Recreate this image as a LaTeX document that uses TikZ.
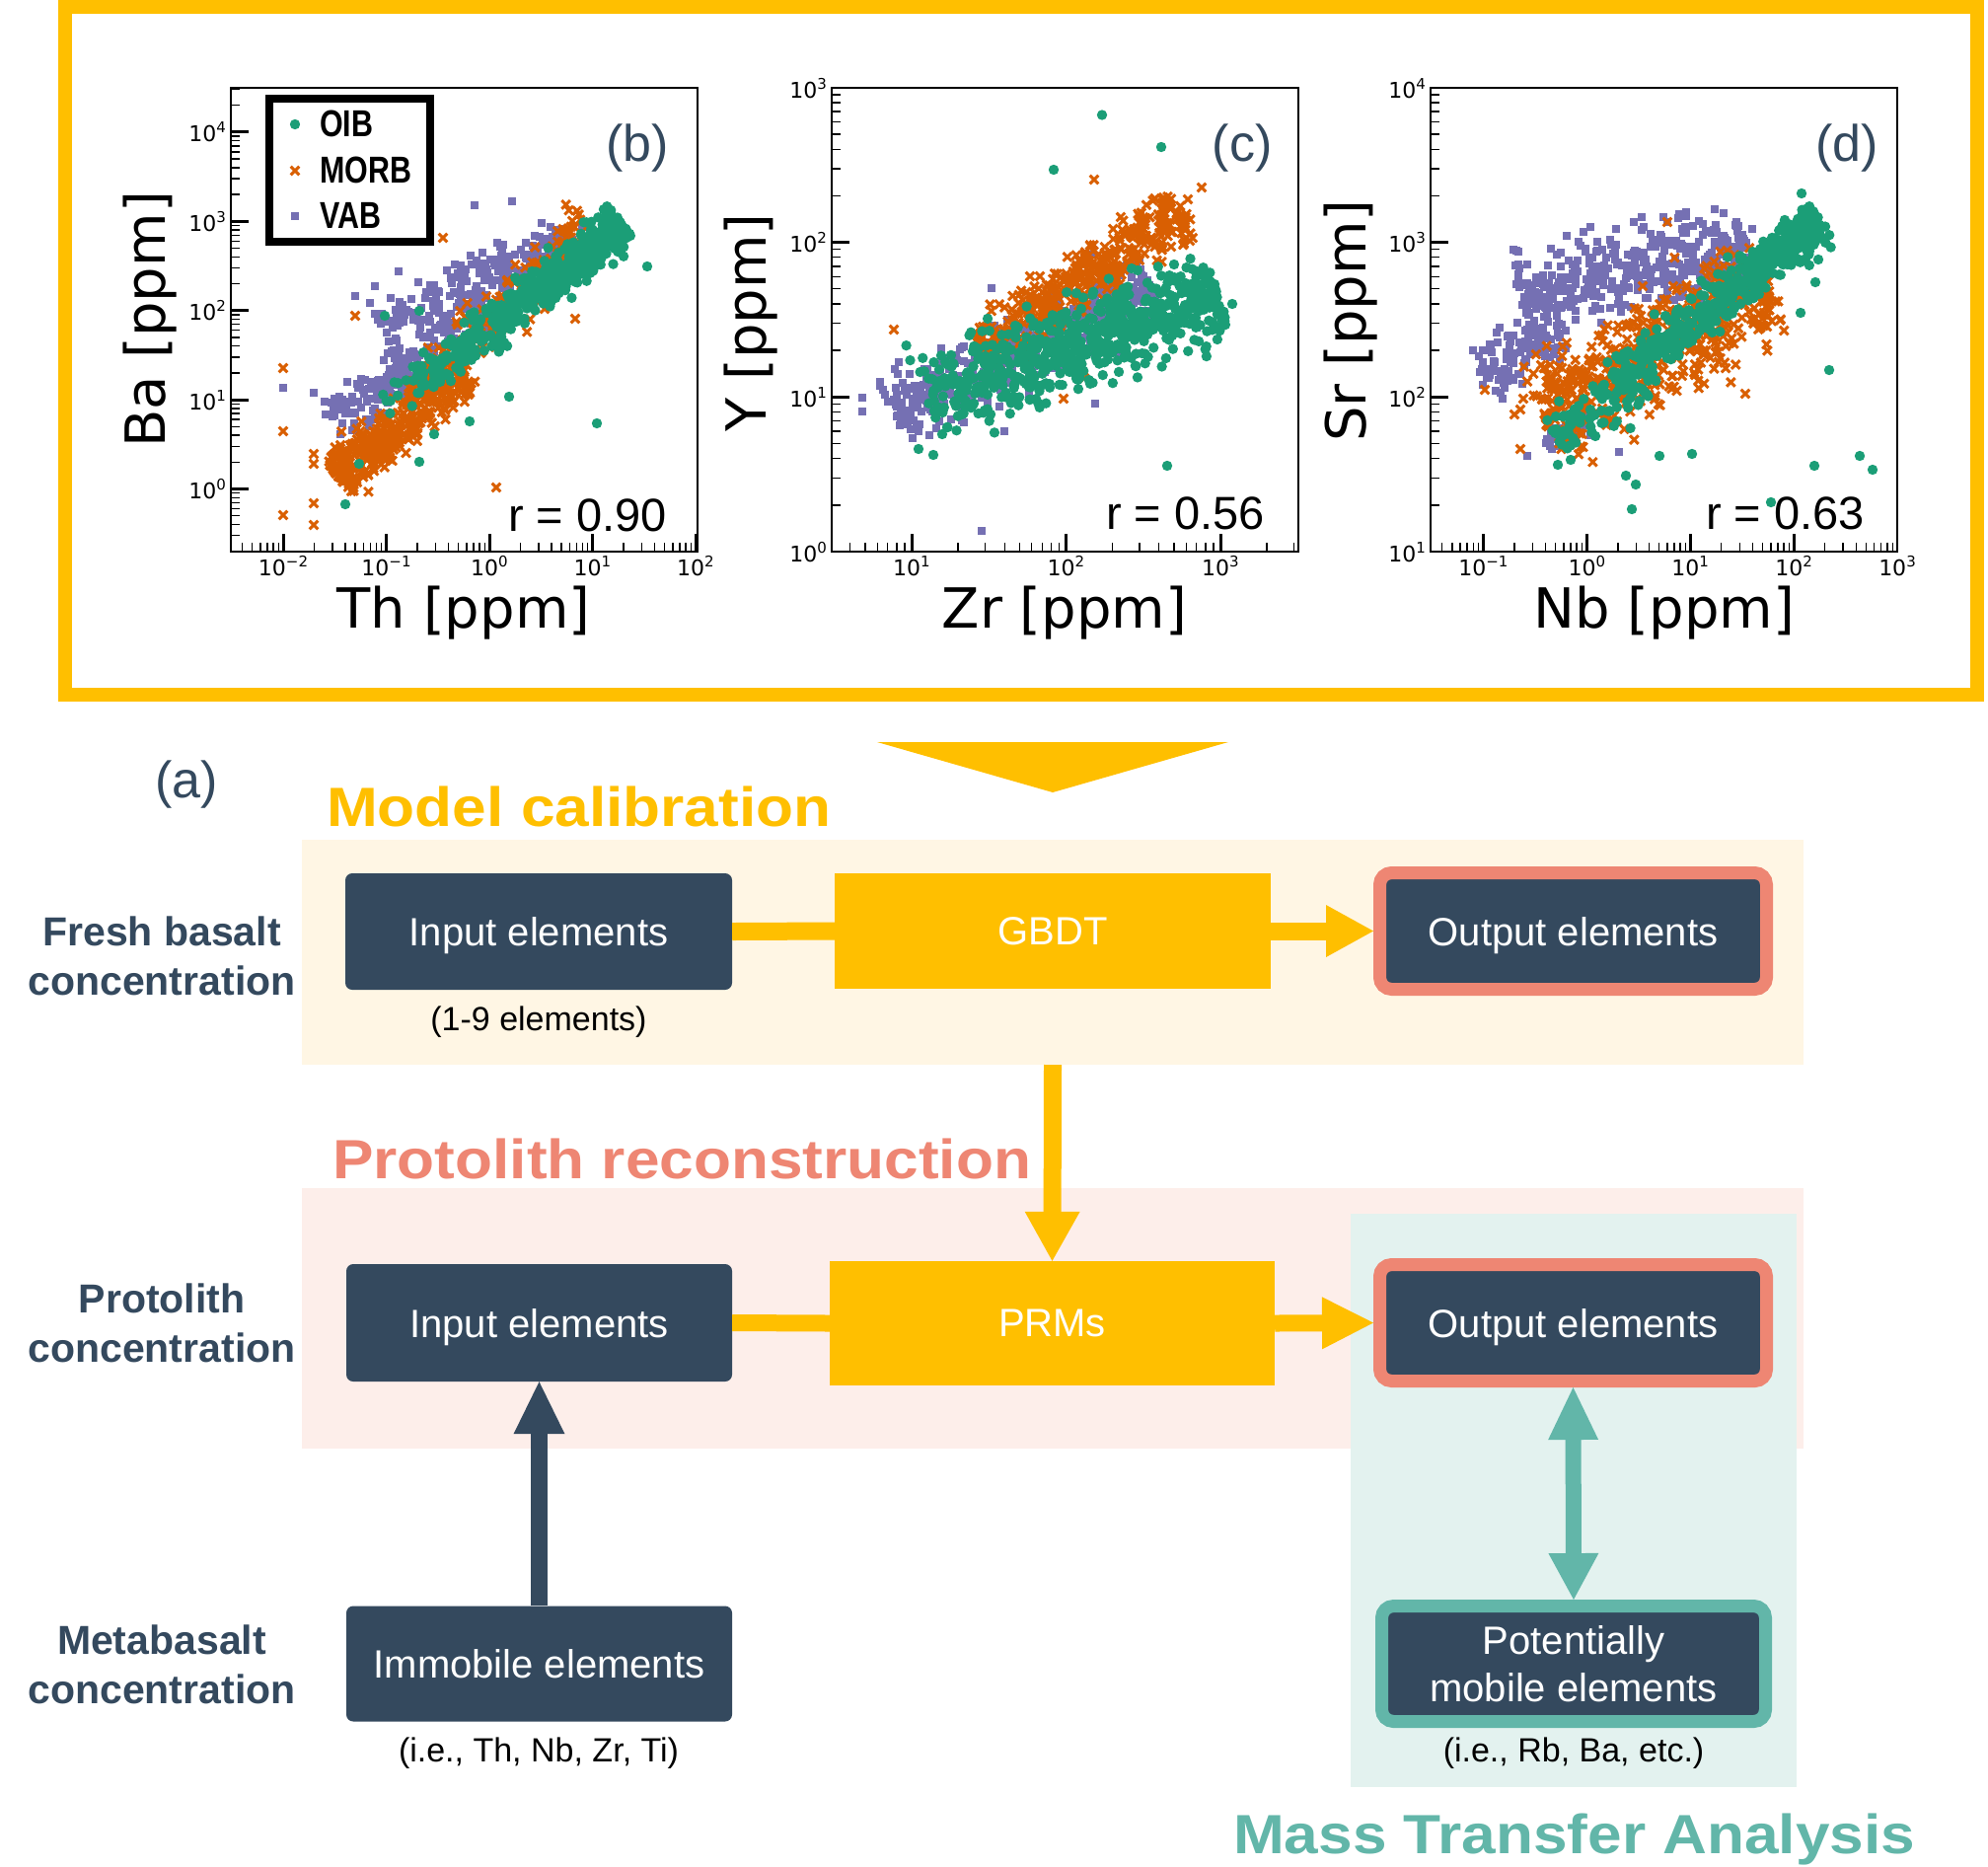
\documentclass[tikz,border=0pt]{standalone}
\usepackage{fontspec}
\setmainfont{Liberation Sans}
\newfontfamily\dvfont{DejaVu Sans}
\newfontfamily\widefont{Liberation Sans}[FakeStretch=1.11]
\newfontfamily\narrowfont{Liberation Sans}[FakeStretch=0.8]
\usetikzlibrary{arrows.meta}
\definecolor{amber}{HTML}{FFBF00}
\definecolor{slate}{HTML}{34495E}
\definecolor{salmon}{HTML}{EE8673}
\definecolor{tealc}{HTML}{62B6A9}
\definecolor{cream}{HTML}{FFF6E4}
\definecolor{pinkbg}{HTML}{FDEEEA}
\definecolor{tealbg}{HTML}{E3F2EF}
\definecolor{oibc}{HTML}{1B9E77}
\definecolor{morbc}{HTML}{D95F02}
\definecolor{vabc}{HTML}{7570B3}
\newcommand\fs[1]{\fontsize{#1}{#1}\selectfont}
\newcommand\tlab[1]{{\dvfont\fs{22}10\raisebox{9pt}{\fs{15}#1}}}
\newcommand\mO[2]{\fill[oibc] (#1,#2) circle (5.2);}
\newcommand\mM[2]{\draw[morbc,line width=3pt] ({#1-4.3},{#2-4.3}) -- ({#1+4.3},{#2+4.3}) ({#1-4.3},{#2+4.3}) -- ({#1+4.3},{#2-4.3});}
\newcommand\mV[2]{\fill[vabc] ({#1-4},{#2-4}) rectangle ++(8,8);}
\newcommand\pts[2]{\foreach \ptx/\pty in {#2}{#1{\ptx}{\pty}}}
\newcommand\cloud[8]{%
  \pgfmathsetmacro\cdx{#4-#2}%
  \pgfmathsetmacro\cdy{#5-#3}%
  \pgfmathsetmacro\cL{veclen(\cdx,\cdy)}%
  \pgfmathsetmacro\cux{(0-(\cdy))/\cL}%
  \pgfmathsetmacro\cuy{(\cdx)/\cL}%
  \foreach \cldI in {1,...,#1}{%
    \pgfmathsetmacro\cldT{rnd^#8}%
    \pgfmathsetmacro\cldN{(rand+rand+rand)*#6}%
    \pgfmathsetmacro\cldX{#2+\cldT*\cdx+\cldN*\cux}%
    \pgfmathsetmacro\cldY{#3+\cldT*\cdy+\cldN*\cuy}%
    #7{\cldX}{\cldY}%
  }}
\newcommand\logaxes[8]{%
  \begin{scope}
    \clip (#5,#6) rectangle (#7,#8);
    \foreach \dd in {-4,...,4}{%
      \foreach \kk in {2,...,9}{%
        \draw[line width=1.4pt] ({#1+(\dd+log10(\kk))*#2},#8) -- ++(0,-9);
        \draw[line width=1.4pt] (#5,{#3-(\dd+log10(\kk))*#4}) -- ++(9,0);
      }
      \draw[line width=3pt] ({#1+\dd*#2},#8) -- ++(0,-18);
      \draw[line width=3pt] (#5,{#3-\dd*#4}) -- ++(18,0);
    }
  \end{scope}
  \draw[line width=1.6pt] (#5,#6) rectangle (#7,#8);}
\tikzset{
  darkbox/.style={fill=slate, rounded corners=7pt, text=white, font=\fs{40}, minimum width=392pt, minimum height=118pt, inner sep=0pt, text depth=0pt},
  ambbox/.style={fill=amber, text=white, font=\fs{40}, inner sep=0pt, text depth=0pt},
  outbox/.style={darkbox, draw=salmon, line width=13pt, rounded corners=12pt},
  rowlab/.style={text=slate, font=\bfseries\fontsize{41}{50}\selectfont, align=center, inner sep=0pt},
  note/.style={font=\fs{34}, inner sep=0pt},
  title/.style={anchor=base west, inner sep=0pt, font=\widefont\bfseries\fs{56}},
  band/.style={inner sep=0pt, outer sep=0pt},
  flowline/.style={line width=18pt},
  axlab/.style={font=\dvfont\fs{56}, inner sep=0pt, anchor=base},
  rlab/.style={font=\fs{47}, inner sep=0pt, anchor=base east},
  plab/.style={text=slate, font=\fs{52}, inner sep=0pt},
  ytl/.style={anchor=base east, inner sep=0pt},
  xtl/.style={anchor=base, inner sep=0pt},
}
\begin{document}
\begin{tikzpicture}[x=1pt,y=-1pt]
\pgfmathsetseed{4242}
\fill[white] (0,0) rectangle (2015,1891);
\useasboundingbox (0,0) rectangle (2015,1891);
% ---------- frame ----------
\draw[amber, line width=14pt] (65.5,7) rectangle (2004,704);
% ---------- plot (b) ----------
\begin{scope}
\clip (234,89) rectangle (707,559);
\cloud{300}{340}{428}{575}{236}{12}{\mV}{1}
\cloud{120}{385}{330}{520}{255}{12}{\mV}{1}
\pts{\mV}{287/393,318/398,481/208,519/204,404/275,360/300,380/290,330/420,336/408,345/440,560/240,590/230}
\cloud{380}{342}{482}{470}{378}{12}{\mM}{1.4}
\cloud{180}{430}{400}{595}{222}{13}{\mM}{1}
\pts{\mM}{287/373,287/437,287/522,318/510,318/532,360/320,503/494,583/323,449/241,318/460,318/470,340/460}
\cloud{520}{382}{420}{632}{228}{11}{\mO}{0.55}
\pts{\mO}{656/270,605/429,350/511,516/402,425/468,364/470,440/440,476/427,390/320,425/315}
\end{scope}
\logaxes{496}{104.5}{495.5}{90.4}{234}{89}{707}{559}
\foreach \xx/\ee [count=\ii] in {287/−2,391.5/−1,496/0,600.5/1,705/2}{\node[xtl] (bxt\ii) at (\xx,583) {\tlab{\ee}};}
\foreach \yy/\ee [count=\ii] in {495.5/0,405.1/1,314.7/2,224.3/3,133.9/4}{\node[ytl] (byt\ii) at (229,\yy+10) {\tlab{\ee}};}
\node[axlab, rotate=90] (bylab) at (167,324) {Ba [ppm]};
\node[axlab] (bxlab) at (470,636) {Th [ppm]};
\node[rlab] (br) at (676,538) {r = 0.90};
\node[plab] (blab) at (646,150) {(b)};
\node[draw=black, line width=8pt, fill=white, minimum width=163pt, minimum height=145pt, inner sep=0pt] (leg) at (354.3,172.4) {};
\mO{299}{126}
\mM{299}{173}
\mV{299}{219}
\node[anchor=base west, inner sep=0pt, font=\narrowfont\bfseries\fs{38}] (lg1) at (324,138) {OIB};
\node[anchor=base west, inner sep=0pt, font=\narrowfont\bfseries\fs{38}] (lg2) at (324,185) {MORB};
\node[anchor=base west, inner sep=0pt, font=\narrowfont\bfseries\fs{38}] (lg3) at (324,231) {VAB};
% ---------- plot (c) ----------
\begin{scope}
\clip (843,89) rectangle (1316,559);
\cloud{420}{905}{418}{1170}{292}{17}{\mV}{1}
\pts{\mV}{874/403,874/417,995/538,1106/258,1005/292,1110/409,1018/437,1143/273,1213/332}
\cloud{420}{995}{352}{1200}{212}{13}{\mM}{1}
\pts{\mM}{906/334,1109/182,1206/244,1078/404,1044/280,1054/280,1218/190,1204/202,1099/383}
\cloud{650}{935}{405}{1235}{300}{21}{\mO}{0.85}
\pts{\mO}{1117/116.5,1177/149,1068/172,1183/472,931/455,946/461,1249/308,1231/288,955/440,960/433,1190/268}
\end{scope}
\logaxes{767.5}{156.5}{559}{156.7}{843}{89}{1316}{559}
\foreach \xx/\ee [count=\ii] in {924/1,1080.5/2,1237/3}{\node[xtl] (cxt\ii) at (\xx,583) {\tlab{\ee}};}
\foreach \yy/\ee [count=\ii] in {559/0,402.3/1,245.6/2,89/3}{\node[ytl] (cyt\ii) at (838,\yy+10) {\tlab{\ee}};}
\node[axlab, rotate=90] (cylab) at (776,327) {Y [ppm]};
\node[axlab] (cxlab) at (1079,636) {Zr [ppm]};
\node[rlab] (cr) at (1282,536) {r = 0.56};
\node[plab] (clab) at (1259,150) {(c)};
% ---------- plot (d) ----------
\begin{scope}
\clip (1450,89) rectangle (1923,559);
\cloud{380}{1540}{300}{1770}{248}{20}{\mV}{1}
\cloud{110}{1500}{378}{1585}{330}{15}{\mV}{1}
\cloud{40}{1565}{445}{1610}{425}{8}{\mV}{1}
\pts{\mV}{1638/232,1701/221,1709/215,1590/264,1641/458,1548/462,1675/243,1699/244,1776/232,1503/355,1503/390,1510/380}
\cloud{520}{1560}{420}{1795}{290}{27}{\mM}{1}
\pts{\mM}{1505/395,1544/404,1541/455,1769/399,1690/225,1665/290,1696/290,1541/415,1535/420}
\cloud{450}{1610}{410}{1845}{222}{11}{\mO}{0.55}
\cloud{90}{1575}{440}{1680}{385}{12}{\mO}{1}
\pts{\mO}{1854/375,1885/462,1898/476,1839/472,1795/509,1654/516,1648/482,1658/491,1682/462,1715/460,1579/471,1592/466,1825/317,1826/196,1840/286,1843/263}
\end{scope}
\logaxes{1608.3}{104.9}{715.7}{156.7}{1450}{89}{1923}{559}
\foreach \xx/\ee [count=\ii] in {1503.4/−1,1608.3/0,1713.2/1,1818.1/2,1923/3}{\node[xtl] (dxt\ii) at (\xx,583) {\tlab{\ee}};}
\foreach \yy/\ee [count=\ii] in {559/1,402.3/2,245.6/3,89/4}{\node[ytl] (dyt\ii) at (1445,\yy+10) {\tlab{\ee}};}
\node[axlab, rotate=90] (dylab) at (1384,325) {Sr [ppm]};
\node[axlab] (dxlab) at (1687,636) {Nb [ppm]};
\node[rlab] (dr) at (1890,536) {r = 0.63};
\node[plab] (dlab) at (1872,150) {(d)};
% ---------- flowchart ----------
\fill[amber] (889,752) -- (1245,752) -- (1067,803) -- cycle;
\node[text=slate, font=\fs{52}, inner sep=0pt] (alab) at (189,795) {(a)};
\node[title, text=amber] (t1) at (331,837) {Model calibration};
\node[title, text=salmon] (t2) at (337,1194) {Protolith reconstruction};
\node[title, text=tealc] (t3) at (1250,1878) {Mass Transfer Analysis};
\node[band, fill=cream, minimum width=1522pt, minimum height=228pt] (band1) at (1067,965) {};
\node[band, fill=pinkbg, minimum width=1522pt, minimum height=264pt] (band2) at (1067,1336) {};
\node[band, fill=tealbg, minimum width=452pt, minimum height=581pt] (band3) at (1595,1520.5) {};
\node[rowlab] (r1) at (164,969) {Fresh basalt\\concentration};
\node[rowlab] (r2) at (164,1340.5) {Protolith\\concentration};
\node[rowlab] (r3) at (164,1687) {Metabasalt\\concentration};
\node[darkbox] (in1) at (546,944) {Input elements};
\node[ambbox, minimum width=442pt, minimum height=117pt] (gbdt) at (1067,943.5) {GBDT};
\node[outbox] (out1) at (1594.5,943.5) {Output elements};
\node[note] (n1) at (546,1036) {(1-9 elements)};
\node[darkbox, minimum width=391pt, minimum height=119pt] (in2) at (546.5,1340.5) {Input elements};
\node[ambbox, minimum width=451pt, minimum height=126pt] (prms) at (1066.5,1341) {PRMs};
\node[outbox] (out2) at (1594.5,1340.5) {Output elements};
\node[darkbox, minimum width=391pt, minimum height=117pt] (imm) at (546.5,1686) {Immobile elements};
\node[outbox, draw=tealc, minimum width=389pt, minimum height=117pt, align=center, font=\fontsize{40}{48}\selectfont, text depth=-6pt] (pot) at (1595,1686) {Potentially\\mobile elements};
\node[note] (n2) at (546,1777) {(i.e., Th, Nb, Zr, Ti)};
\node[note] (n3) at (1595,1777) {(i.e., Rb, Ba, etc.)};
% connectors
\draw[amber, flowline] (in1.east) -- (gbdt.west);
\draw[amber, flowline, -{Triangle[length=48pt 0 0, width=53pt 0 0, line width=0pt 0 0]}] (gbdt.east) -- (out1.west);
\draw[amber, flowline, -{Triangle[length=50pt 0 0, width=56pt 0 0, line width=0pt 0 0]}] (band1.south -| gbdt.south) -- (prms.north);
\draw[amber, line width=17pt] (in2.east) -- (prms.west);
\draw[amber, line width=17pt, -{Triangle[length=52pt 0 0, width=53pt 0 0, line width=0pt 0 0]}] (prms.east) -- (out2.west);
\draw[slate, line width=17pt, -{Triangle[length=53pt 0 0, width=52pt 0 0, line width=0pt 0 0]}] (imm.north) -- (in2.south);
\draw[tealc, line width=16pt, {Triangle[length=53pt 0 0, width=51pt 0 0, line width=0pt 0 0]}-{Triangle[length=47pt 0 0, width=51pt 0 0, line width=0pt 0 0]}] (out2.south) -- (pot.north);
\end{tikzpicture}
\end{document}
